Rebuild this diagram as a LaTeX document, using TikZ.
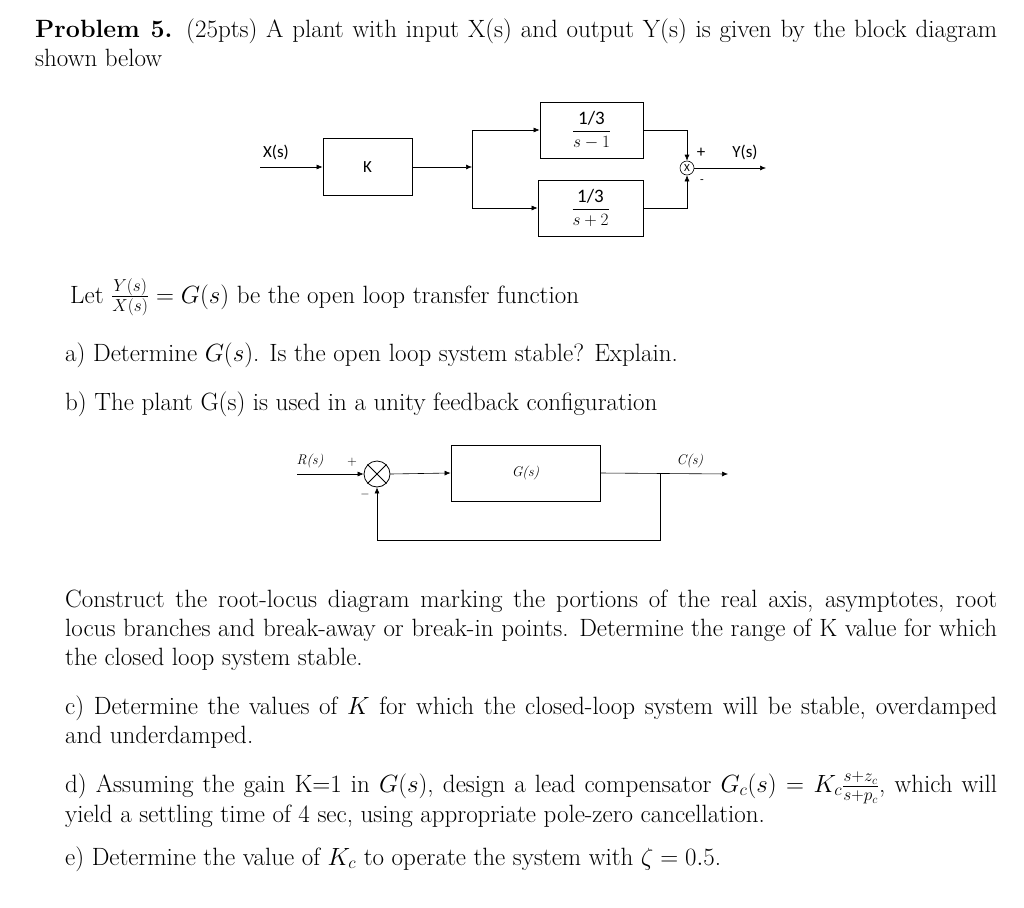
\documentclass[tikz,border=0pt]{standalone}
\usepackage{amsmath}
\usepackage{fontspec}
\newfontfamily\calib{Carlito}
\usetikzlibrary{arrows.meta}
\tikzset{
  blk/.style={draw,thick,inner sep=0pt},
  wire/.style={draw,line width=0.6pt},
  arr/.style={wire,-{Latex[length=6pt,width=5pt]}},
  txt/.style={anchor=west,inner sep=0pt,font=\fontsize{25}{29}\selectfont},
  par/.style={anchor=north west,inner sep=0pt,text width=932pt,align=justify,font=\fontsize{25}{29}\selectfont},
  lab/.style={inner sep=0pt,font=\calib\fontsize{17}{20}\selectfont},
}
\begin{document}
\begin{tikzpicture}[x=1pt,y=-1pt]
\useasboundingbox (0,0) rectangle (1024,907);
% text
\node[par,text width=962pt] (p1) at (35,19) {\textbf{Problem 5.} (25pts) A plant with input X(s) and output Y(s) is given by the block diagram\linebreak shown below};
\node[txt] (let) at (70,297) {Let $\frac{Y(s)}{X(s)} = G(s)$ be the open loop transfer function};
\node[txt] (qa) at (65,355) {a) Determine $G(s)$. Is the open loop system stable? Explain.};
\node[txt] (qb) at (65,404) {b) The plant G(s) is used in a unity feedback configuration};
\node[par] (con) at (65,590) {Construct the root-locus diagram marking the portions of the real axis, asymptotes, root\linebreak locus branches and break-away or break-in points. Determine the range of K value for which\linebreak the closed loop system stable.};
\node[par] (qc) at (65,696) {c) Determine the values of $K$ for which the closed-loop system will be stable, overdamped\linebreak and underdamped.};
\node[par] (qd) at (65,772) {d) Assuming the gain K=1 in $G(s)$, design a lead compensator $G_c(s) = K_c\frac{s+z_c}{s+p_c}$, which will\linebreak yield a settling time of 4 sec, using appropriate pole-zero cancellation.};
\node[txt] (qe) at (65,859) {e) Determine the value of $K_c$ to operate the system with $\zeta = 0.5$.};
% diagram 1
\node[blk,minimum width=89pt,minimum height=57pt,lab] (K) at (367.5,167) {K};
\node[blk,minimum width=103pt,minimum height=56pt,font=\fontsize{19}{22}\selectfont] (g1) at (591.5,130) {$\dfrac{\mbox{\calib 1/3}}{s-1}$};
\node[blk,minimum width=105pt,minimum height=56pt,font=\fontsize{19}{22}\selectfont] (g2) at (590.5,208) {$\dfrac{\mbox{\calib 1/3}}{s+2}$};
\node[draw,circle,line width=0.6pt,minimum size=14pt,inner sep=0pt,font=\calib\fontsize{11}{11}\selectfont] (sum1) at (687,168) {X};
\coordinate (xin) at (260,167);
\coordinate (br) at (472,167);
\coordinate (yout) at (766,168);
\node[lab] (xl) at (276,152) {X(s)};
\node[lab] (yl) at (745,152) {Y(s)};
\node[lab] at (701,153) {+};
\node[lab,font=\calib\fontsize{12}{12}\selectfont] at (702,182) {-};
\draw[arr] (xin) -- (K.west);
\draw[arr] (K.east) -- (br);
\draw[arr] (br) |- (g1.west);
\draw[arr] (br) |- (g2.west);
\draw[arr] (g1.east) -| (sum1.north);
\draw[arr] (g2.east) -| (sum1.south);
\draw[arr] (sum1.east) -- (yout);
% diagram 2
\node[draw,circle,line width=0.8pt,minimum size=26pt,inner sep=0pt] (sum2) at (377,474) {};
\draw[line width=0.8pt] (sum2.north west) -- (sum2.south east) (sum2.north east) -- (sum2.south west);
\node[blk,minimum width=149pt,minimum height=56pt,font=\fontsize{14}{14}\selectfont\itshape] (G) at (525.5,473) {G(s)};
\coordinate (rin) at (297,474);
\coordinate (cout) at (728,474);
\coordinate (tap) at (660,474);
\coordinate (fb) at (660,540);
\node[inner sep=0pt,font=\fontsize{14}{14}\selectfont\itshape] (rl) at (310,461) {R(s)};
\node[inner sep=0pt,font=\fontsize{14}{14}\selectfont\itshape] (cl) at (690,461) {C(s)};
\node[inner sep=0pt,font=\fontsize{13}{13}\selectfont] at (352,462) {+};
\node[inner sep=0pt,font=\fontsize{13}{13}\selectfont] at (365,494) {$-$};
\draw[arr] (rin) -- (sum2.west);
\draw[arr] (sum2.east) -- (G.west);
\draw[arr] (G.east) -- (cout);
\draw[arr] (tap) -- (fb) -| (sum2.south);
\end{tikzpicture}
\end{document}
